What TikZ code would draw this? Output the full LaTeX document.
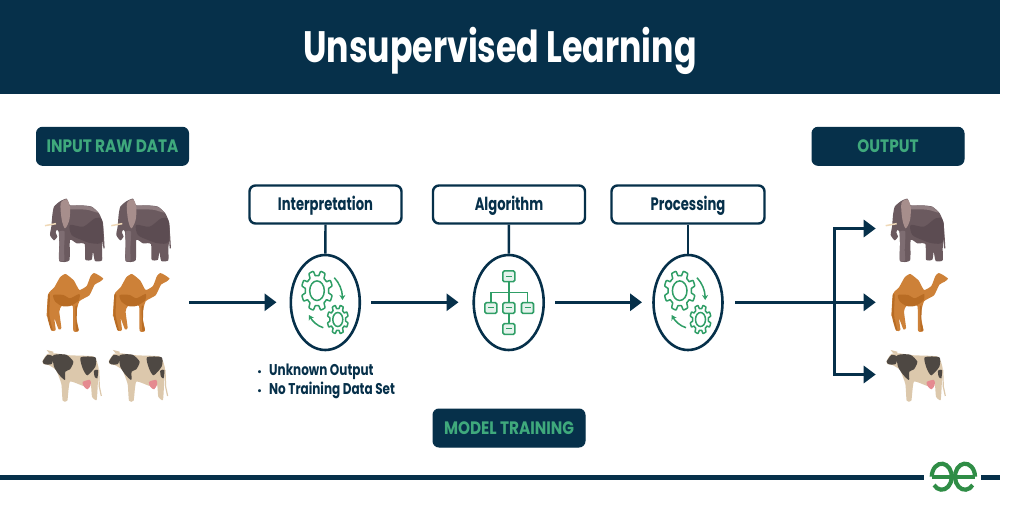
\documentclass[tikz,border=0pt]{standalone}
\usepackage{fontspec}
\setmainfont{Poppins}
\usetikzlibrary{arrows.meta,shapes.geometric}
\definecolor{navy}{HTML}{06304A}
\definecolor{mint}{HTML}{3FA97C}
\definecolor{gearg}{HTML}{2F9E66}
\definecolor{gfg}{HTML}{2F8D46}
\definecolor{elbody}{HTML}{6B5A5F}
\definecolor{eltop}{HTML}{8F7D80}
\definecolor{eldark}{HTML}{5C4C52}
\definecolor{elleg}{HTML}{7E6D72}
\definecolor{elear}{HTML}{A78E8C}
\definecolor{eltusk}{HTML}{F0D9B8}
\definecolor{cabody}{HTML}{CD8138}
\definecolor{cadark}{HTML}{B86C24}
\definecolor{cowb}{HTML}{DCC8AC}
\definecolor{cowd}{HTML}{4E4843}
\definecolor{cowp}{HTML}{E58A90}
\newcommand{\squeeze}[2]{\scalebox{#1}[1]{#2}}
\tikzset{
  headbox/.style={draw=navy,fill=navy,line width=1pt,rounded corners=6pt,text=mint,font=\bfseries\fontsize{18}{20}\selectfont,minimum width=152pt,minimum height=38pt,inner sep=0pt,text height=12.6pt,text depth=0pt},
  stepbox/.style={draw=navy,fill=white,line width=2.4pt,rounded corners=6pt,text=navy,font=\bfseries\fontsize{18}{20}\selectfont,minimum height=38pt,inner sep=0pt,text height=12.6pt,text depth=0pt},
  oval/.style={draw=navy,fill=white,line width=2.6pt,ellipse,inner sep=0pt},
  link/.style={draw=navy,line width=2.4pt},
  flow/.style={draw=navy,line width=3pt,-{Triangle[length=12pt,width=17pt]}},
  icon/.style={draw=gearg,line width=1.5pt},
  iconbox/.style={draw=gearg,line width=1.6pt,fill=gearg!12,rounded corners=1.5pt},
  notetext/.style={anchor=base west,inner sep=0pt,text=navy,font=\bfseries\fontsize{15.6}{18}\selectfont},
}
\newcommand{\elephantpic}[1]{%
\begin{scope}[shift={(#1,180)},scale=0.3333]
 \draw[line width=1.3pt,draw=elbody] (246,125) -- (250,170) -- (252,205);
 \fill[fill=elbody] plot[smooth cycle,tension=0.35] coordinates {(120,64) (140,56) (150,76) (185,76) (215,80) (237,100) (249,130) (250,170) (246,205) (246,241) (225,243) (219,215) (215,239) (196,239) (194,192) (170,190) (150,180) (148,241) (118,243) (118,190) (116,155) (110,150) (107,158) (112,170) (102,181) (90,165) (94,140) (97,105) (102,80)};
 \fill[fill=eltop] plot[smooth cycle,tension=0.4] coordinates {(150,77) (185,77) (215,81) (234,98) (205,90) (180,88) (150,88)};
 \fill[fill=eldark] plot[smooth cycle,tension=0.5] coordinates {(150,135) (190,140) (225,115) (246,120) (247,185) (215,190) (185,180) (155,165)};
 \fill[fill=elleg] plot[smooth cycle,tension=0.3] coordinates {(118,155) (134,155) (132,210) (133,241) (118,243) (118,190)};
 \fill[fill=elear] plot[smooth cycle,tension=0.5] coordinates {(122,70) (140,58) (150,80) (148,120) (135,145) (125,118)};
 \draw[line width=1.5pt,draw=eltusk] (75,137) -- (108,131);
\end{scope}}
\newcommand{\camelpic}[1]{%
\begin{scope}[shift={(#1,180)},scale=0.3333]
 \fill[fill=cabody] plot[smooth cycle,tension=0.3] coordinates {(250,296) (235,285) (222,279) (212,288) (200,318) (178,330) (162,302) (137,282) (120,292) (103,322) (85,342) (80,408) (88,412) (96,452) (107,450) (103,415) (116,448) (124,444) (118,395) (125,378) (158,378) (160,452) (176,452) (168,405) (178,364) (208,346) (224,314) (240,305)};
 \fill[fill=cadark] plot[smooth cycle,tension=0.4] coordinates {(100,345) (130,345) (150,355) (178,342) (176,362) (150,378) (125,378) (105,364)};
 \fill[fill=cadark] plot[smooth cycle,tension=0.3] coordinates {(84,345) (90,345) (88,405) (98,450) (93,450) (82,410)};
 \fill[fill=cadark] plot[smooth cycle,tension=0.3] coordinates {(166,380) (171,380) (170,425) (176,450) (168,452)};
\end{scope}}
\newcommand{\cowpic}[1]{%
\begin{scope}[shift={(#1,180)},scale=0.3333]
 \draw[line width=1.2pt,draw=cowb] (236,570) -- (238,620) -- (244,648);
 \fill[fill=cowb] plot[smooth cycle,tension=0.3] coordinates {(82,522) (105,520) (150,526) (222,530) (236,565) (234,600) (230,660) (216,650) (212,612) (190,618) (150,605) (142,662) (128,662) (124,612) (108,570) (85,555) (70,552) (68,542)};
 \fill[fill=cowb] (80,510) -- (100,515) -- (100,522) -- (88,520) -- cycle;
 \fill[fill=cowd] plot[smooth cycle,tension=0.4] coordinates {(68,545) (82,525) (100,530) (95,552) (75,553)};
 \fill[fill=cowd] plot[smooth cycle,tension=0.4] coordinates {(100,526) (138,524) (160,545) (150,568) (136,575) (135,600) (118,585) (102,560)};
 \fill[fill=cowd] plot[smooth cycle,tension=0.4] coordinates {(182,532) (226,532) (226,560) (202,586) (188,565)};
 \fill[fill=cowd] plot[smooth cycle,tension=0.4] coordinates {(222,572) (234,570) (232,595) (224,590)};
 \fill[fill=cowp] plot[smooth cycle,tension=0.5] coordinates {(188,606) (210,600) (212,615) (203,628) (192,620)};
\end{scope}}
\newcommand{\gearpic}[6]{% x y Rx Ry rx ry
 \draw[icon,line join=round] plot[domain=0:360,samples=193,variable=\t] ({#1+#3*(1-0.14*max(-1,min(1,3*cos(8*\t))))*cos(\t)},{#2+#4*(1-0.14*max(-1,min(1,3*cos(8*\t))))*sin(\t)}) -- cycle;
 \draw[icon] (#1,#2) ellipse[x radius=#5,y radius=#6];}
\newcommand{\gearset}[1]{%
 \begin{scope}[shift={(#1,0)}]
 \gearpic{-8.3}{290.7}{13.6}{17.5}{7.3}{9.8}
 \gearpic{12.5}{319.5}{9.2}{12.7}{5}{7}
 \draw[icon,-{Stealth[length=5pt,width=6pt]}] (9,277.7) .. controls (14,283) and (17,290) .. (17.2,300);
 \draw[icon,-{Stealth[length=5pt,width=6pt]}] (-2,327.7) .. controls (-8,326) and (-13,321) .. (-16.3,315);
 \end{scope}}
\begin{document}
\begin{tikzpicture}[x=1pt,y=-1pt]
\useasboundingbox (0,0) rectangle (1009,510);
\fill[white] (0,0) rectangle (1009,510);
\fill[navy] (0,0) rectangle (1000,94);
\node[text=white,font=\bfseries\fontsize{44}{48}\selectfont,inner sep=0pt,anchor=base] (title) at (500,62.3) {\squeeze{0.755}{Unsupervised Learning}};
\node[headbox] (input) at (112.5,146.3) {\squeeze{0.85}{INPUT RAW DATA}};
\node[headbox] (output) at (888,146.3) {\squeeze{0.85}{OUTPUT}};
\node[headbox] (model) at (509,428) {\squeeze{0.85}{MODEL TRAINING}};
\node[stepbox,minimum width=152pt] (interp) at (325.5,204.5) {\squeeze{0.73}{Interpretation}};
\node[stepbox,minimum width=152pt] (algo) at (509,204.5) {\squeeze{0.73}{Algorithm}};
\node[stepbox,minimum width=153pt] (proc) at (688,204.5) {\squeeze{0.73}{Processing}};
\node[oval,minimum width=69pt,minimum height=95pt] (e1) at (325.3,302.5) {};
\node[oval,minimum width=70pt,minimum height=95pt] (e2) at (508.7,302.5) {};
\node[oval,minimum width=69pt,minimum height=95pt] (e3) at (688,302.5) {};
\draw[link] (interp) -- (e1);
\draw[link] (algo) -- (e2);
\draw[link] (proc) -- (e3);
\gearset{325.3}
\gearset{688}
% org chart icon
\draw[icon] (508.8,277) -- (508.8,328);
\draw[icon] (490.8,307) -- (490.8,292.7) -- (527.5,292.7) -- (527.5,307);
\foreach \x/\y in {508.8/276.3,490.8/308,508.8/308,527.5/308,508.8/329}{
  \draw[iconbox] (\x-6,\y-5.4) rectangle (\x+6,\y+5.4);
  \draw[icon,line width=1pt] (\x-3,\y) -- (\x+3,\y);
}
% flow arrows
\coordinate (a0) at (189,302.3);
\coordinate (a1) at (276.5,302.3);
\coordinate (b0) at (371,302.3);
\coordinate (b1) at (458.5,302.3);
\coordinate (c0) at (555,302.3);
\coordinate (c1) at (642,302.3);
\coordinate (d0) at (735,302.3);
\coordinate (d1) at (875.7,302.3);
\coordinate (top) at (834,228.5);
\coordinate (topend) at (875.7,228.5);
\coordinate (bot) at (834,374.5);
\coordinate (botend) at (875.7,374.5);
\draw[flow] (a0) -- (a1);
\draw[flow] (b0) -- (b1);
\draw[flow] (c0) -- (c1);
\draw[flow] (d0) -- (d1);
\draw[flow] (top |- d0) -- (top) -- (topend);
\draw[flow] (top |- d0) -- (bot) -- (botend);
% animals
\elephantpic{20}\elephantpic{86.3}\elephantpic{860.7}
\camelpic{20}\camelpic{86.3}\camelpic{864.7}
\cowpic{20}\cowpic{86.3}\cowpic{864}
% bullets
\node[notetext] (b1t) at (257,376) {\makebox[12pt][l]{\fontsize{10}{12}\selectfont •}\squeeze{0.77}{Unknown Output}};
\node[notetext] (b2t) at (257,395) {\makebox[12pt][l]{\fontsize{10}{12}\selectfont •}\squeeze{0.77}{No Training Data Set}};
% bottom rule and logo
\coordinate (r0) at (0,477.5);
\coordinate (r1) at (924,477.5);
\coordinate (r2) at (981,477.5);
\coordinate (r3) at (1000,477.5);
\draw[navy,line width=4.5pt] (r0) -- (r1);
\draw[navy,line width=4.5pt] (r2) -- (r3);
\begin{scope}[draw=gfg,line width=4.2pt]
 \draw (941.75,476.7) ++(140:10 and 13) arc[start angle=140,end angle=-180,x radius=10,y radius=13];
 \draw (965,476.7) ++(40:10 and 13) arc[start angle=40,end angle=360,x radius=10,y radius=13];
 \draw (932,476.7) -- (975,476.7);
\end{scope}
\end{tikzpicture}
\end{document}
